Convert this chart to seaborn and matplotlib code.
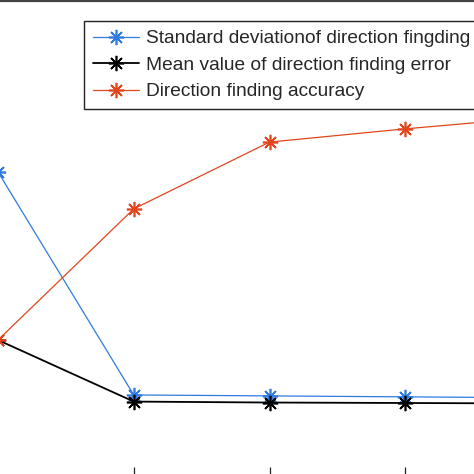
import numpy as np
import pandas as pd
import matplotlib
matplotlib.use('Agg')
import matplotlib.pyplot as plt
import seaborn as sns

# values (same y scale for all three series)
steps = [1, 2, 3, 4, 5]
std_dev = [63.9, 16.8, 16.6, 16.4, 16.2]
mean_err = [28.4, 15.4, 15.2, 15.1, 15.0]
accuracy = [28.4, 56.1, 70.2, 73.0, 75.5]

labels = ['Standard deviationof direction fingding',
          'Mean value of direction finding error',
          'Direction finding accuracy']
colors = ['#2f7be0', '#000000', '#e2461c']

sns.set_style('white')
plt.rcParams['font.family'] = ['Liberation Sans', 'DejaVu Sans']

W = 474
fig = plt.figure(figsize=(4.74, 4.74), dpi=100)
# the original is a crop of a bigger MATLAB figure, so the axes run past the edges
ax = fig.add_axes([-2 / W, -0.5 / W, 543 / W, 473.5 / W])

star = (8, 2, 0)
for vals, lab, col in zip([std_dev, mean_err, accuracy], labels, colors):
    lw = 1.3 if col == '#000000' else 0.9
    sns.lineplot(x=steps, y=vals, ax=ax, color=col, marker=star, markersize=11,
                 markeredgecolor=col, markeredgewidth=1.2, linewidth=lw, label=lab)

ax.set_xlim(1, 5)
ax.set_ylim(0, 100)
ax.set_xticks([2, 3, 4])
ax.set_xticklabels([])
ax.set_yticks([])
ax.tick_params(axis='x', direction='in', length=5.5, width=0.9, color='#222222',
               bottom=True, top=False)
for side in ['left', 'right', 'bottom']:
    ax.spines[side].set_visible(False)
ax.spines['top'].set_linewidth(1.6)
ax.spines['top'].set_color('#444444')

leg = ax.legend(loc='upper left', bbox_to_anchor=(84 / W, 1 - 21 / W),
                bbox_transform=fig.transFigure, borderaxespad=0, fontsize=13.8,
                frameon=True, fancybox=False, framealpha=1, edgecolor='#222222',
                handlelength=2.4, handletextpad=0.37, labelspacing=0.47,
                borderpad=0.47)
leg.get_frame().set_linewidth(1.0)

fig.savefig('out.png', dpi=100)
